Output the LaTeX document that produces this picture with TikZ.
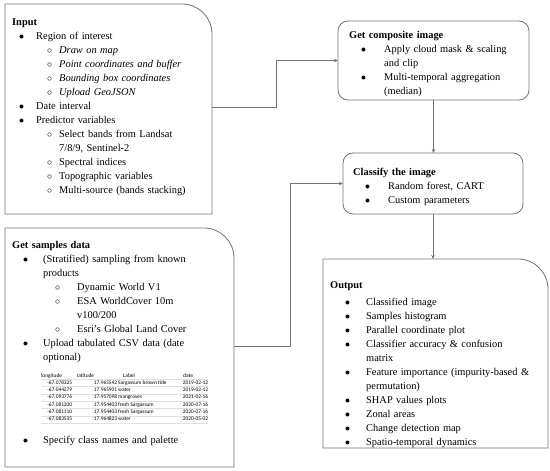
\documentclass[tikz,border=0pt]{standalone}
\usepackage{fontspec}
\setmainfont{Liberation Serif}
\newfontfamily\csvfont{Carlito}
\usepackage[table]{xcolor}
\usepackage{enumitem}
\usetikzlibrary{positioning,arrows.meta,calc}

\setlist[itemize]{topsep=0pt,partopsep=0pt,itemsep=0pt,parsep=0pt,labelwidth=5pt,labelsep=*,align=left}
\setlist[itemize,1]{label=$\bullet$}
\setlist[itemize,2]{label=$\circ$}

\begin{document}
\begin{tikzpicture}[
  x=1pt, y=1pt,
  font=\fontsize{10.4}{14}\selectfont,
  >={Stealth[length=4pt,width=3.5pt]},
  frame/.style={draw=black!55, line width=0.8pt},
  panel/.style={inner sep=0pt, outer sep=0pt},
  roundbox/.style={frame, rounded corners=10pt, inner sep=0pt, outer sep=0pt},
  body/.style={anchor=north west, inner sep=0pt, align=left},
  link/.style={->, draw=black!55, line width=0.8pt},
]
\useasboundingbox (0,0) rectangle (550,471);

% Input panel
\node[panel, minimum width=207pt, minimum height=210pt] (input) at (108.5,362) {};
\draw[frame] (input.south west) -- (input.north west) -- ([xshift=-30pt]input.north east)
  arc[start angle=90, end angle=0, radius=30pt] -- (input.south east) -- cycle;
\node[body, text width=198pt] (inputtext) at ([shift={(7pt,-11.5pt)}]input.north west) {%
  \rule{0pt}{10pt}\textbf{Input}
  \begin{itemize}[leftmargin=24pt,labelindent=7pt]
  \item Region of interest
    \begin{itemize}[leftmargin=23pt,labelindent=11pt]
    \item \textit{Draw on map}
    \item \textit{Point coordinates and buffer}
    \item \textit{Bounding box coordinates}
    \item \textit{Upload GeoJSON}
    \end{itemize}
  \item Date interval
  \item Predictor variables
    \begin{itemize}[leftmargin=23pt,labelindent=11pt]
    \item Select bands from Landsat\newline 7/8/9, Sentinel-2
    \item Spectral indices
    \item Topographic variables
    \item Multi-source (bands stacking)
    \end{itemize}
  \end{itemize}};

% Samples panel
\node[panel, minimum width=229pt, minimum height=239pt] (samples) at (119.5,123.5) {};
\draw[frame] (samples.south west) -- (samples.north west) -- ([xshift=-30pt]samples.north east)
  arc[start angle=90, end angle=0, radius=30pt] -- (samples.south east) -- cycle;
\node[body, text width=218pt] (samplestext) at ([shift={(7pt,-10.5pt)}]samples.north west) {%
  \rule{0pt}{10pt}\textbf{Get samples data}
  \begin{itemize}[leftmargin=31pt,labelindent=11pt]
  \item (Stratified) sampling from known\newline products
    \begin{itemize}[leftmargin=34pt,labelindent=12pt]
    \item Dynamic World V1
    \item ESA WorldCover 10m\newline v100/200
    \item Esri's Global Land Cover
    \end{itemize}
  \item Upload tabulated CSV data (date\newline optional)
  \vspace{69pt}
  \item Specify class names and palette
  \end{itemize}};

% CSV preview
\node[anchor=north west, inner sep=0pt, font=\csvfont\fontsize{5.4}{7}\selectfont] (csv)
  at ([shift={(36pt,-144pt)}]samples.north west) {%
  \arrayrulecolor{black!12}\setlength\arrayrulewidth{0.3pt}\setlength\tabcolsep{0pt}%
  \begin{tabular}{@{}llll@{}}
  \makebox[31pt][l]{longitude} & \makebox[45pt][l]{\hspace{5pt}latitude} & \makebox[64pt][l]{\hspace{6pt}Label} & \makebox[27pt][l]{\hspace{2pt}date}\\ \hline
  \makebox[31pt][r]{-67.078325} & \makebox[45pt][r]{17.965542} & \makebox[64pt][l]{\hspace{1pt}Sargassum brown tide} & \makebox[27pt][r]{2019-02-12}\\ \hline
  \makebox[31pt][r]{-67.044279} & \makebox[45pt][r]{17.965901} & \makebox[64pt][l]{\hspace{1pt}water} & \makebox[27pt][r]{2019-02-12}\\ \hline
  \makebox[31pt][r]{-67.093776} & \makebox[45pt][r]{17.957098} & \makebox[64pt][l]{\hspace{1pt}mangroves} & \makebox[27pt][r]{2021-02-16}\\ \hline
  \makebox[31pt][r]{-67.081200} & \makebox[45pt][r]{17.954403} & \makebox[64pt][l]{\hspace{1pt}fresh Sargassum} & \makebox[27pt][r]{2020-07-16}\\ \hline
  \makebox[31pt][r]{-67.081110} & \makebox[45pt][r]{17.954403} & \makebox[64pt][l]{\hspace{1pt}fresh Sargassum} & \makebox[27pt][r]{2020-07-16}\\ \hline
  \makebox[31pt][r]{-67.083535} & \makebox[45pt][r]{17.964823} & \makebox[64pt][l]{\hspace{1pt}water} & \makebox[27pt][r]{2020-05-02}\\ \hline
  \end{tabular}};

% Get composite image
\node[roundbox, minimum width=191pt, minimum height=79pt] (composite) at (433.5,410.5) {};
\node[body, text width=180pt] (compositetext) at ([shift={(11pt,-7pt)}]composite.north west) {%
  \rule{0pt}{10pt}\textbf{Get composite image}
  \begin{itemize}[leftmargin=35pt,labelindent=12pt]
  \item Apply cloud mask \& scaling\newline and clip
  \item Multi-temporal aggregation\newline (median)
  \end{itemize}};

% Classify the image
\node[roundbox, minimum width=180pt, minimum height=61pt] (classify) at (433,287.5) {};
\node[body, text width=170pt] (classifytext) at ([shift={(10pt,-12pt)}]classify.north west) {%
  \rule{0pt}{10pt}\textbf{Classify the image}
  \begin{itemize}[leftmargin=35pt,labelindent=12pt]
  \item Random forest, CART
  \item Custom parameters
  \end{itemize}};

% Output panel
\node[panel, minimum width=225pt, minimum height=189pt] (output) at (435.5,117.5) {};
\draw[frame] (output.south west) -- (output.north west) -- ([xshift=-30pt]output.north east)
  arc[start angle=90, end angle=0, radius=30pt] -- (output.south east) -- cycle;
\node[body, text width=212pt] (outputtext) at ([shift={(7pt,-19pt)}]output.north west) {%
  \rule{0pt}{10pt}\textbf{Output}
  \begin{itemize}[leftmargin=36pt,labelindent=15pt,topsep=3pt]
  \item Classified image
  \item Samples histogram
  \item Parallel coordinate plot
  \item Classifier accuracy \& confusion\newline matrix
  \item Feature importance (impurity-based \&\newline permutation)
  \item SHAP values plots
  \item Zonal areas
  \item Change detection map
  \item Spatio-temporal dynamics
  \end{itemize}};

% connectors
\draw[link] ([yshift=2pt]input.east) -- ++(64pt,0) |- (composite.west);
\draw[link] (composite.south) -- (composite.south |- classify.north);
\draw[link] ([yshift=1.5pt]samples.east) -- ++(56pt,0) |- (classify.west);
\draw[link] (classify.south) -- (classify.south |- output.north);

\end{tikzpicture}
\end{document}
